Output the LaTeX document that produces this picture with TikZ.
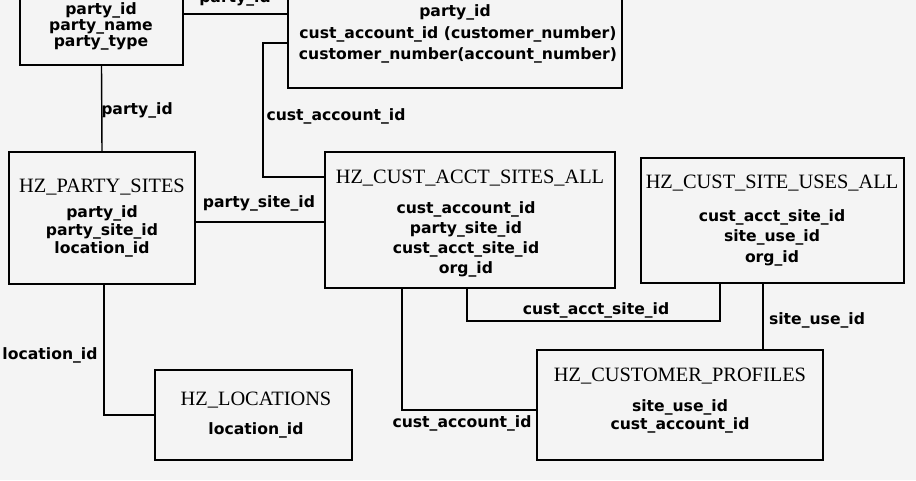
\documentclass[tikz,border=0pt]{standalone}
\usepackage{fontspec}
\setmainfont{Liberation Serif}
\newfontfamily\fieldfont{DejaVu Sans}
\definecolor{bg}{HTML}{F4F4F4}
\begin{document}
\begin{tikzpicture}[x=0.02cm,y=-0.02cm,
  tbl/.style={draw,line width=0.8pt,inner sep=0pt},
  ttl/.style={font=\fontsize{11.6}{13}\selectfont},
  fld/.style={font=\fieldfont\bfseries\fontsize{8.9}{10}\selectfont},
  lnk/.style={draw,line width=0.8pt}]
\fill[bg] (0,0) rectangle (916,480);
\useasboundingbox (0,0) rectangle (916,480);
\begin{scope}
\clip (0,0) rectangle (916,480);
% boxes
\node[tbl,minimum width=163*0.02cm,minimum height=100*0.02cm] (parties) at (101.5,15) {};
\node[tbl,minimum width=334*0.02cm,minimum height=120*0.02cm] (accts) at (455,28) {};
\node[tbl,minimum width=186*0.02cm,minimum height=132*0.02cm] (psites) at (102,218) {};
\node[tbl,minimum width=290*0.02cm,minimum height=136*0.02cm] (asites) at (470,220) {};
\node[tbl,minimum width=263*0.02cm,minimum height=125*0.02cm] (suses) at (772.5,220.5) {};
\node[tbl,minimum width=286*0.02cm,minimum height=110*0.02cm] (profs) at (680,405) {};
\node[tbl,minimum width=197*0.02cm,minimum height=90*0.02cm] (locs) at (253.5,415) {};
\end{scope}
% texts
\node[fld] (t1) at (101,10) {party\_id};
\node[fld] (t2) at (101,27) {party\_name};
\node[fld] (t3) at (101,43) {party\_type};
\node[fld] (t4) at (455,12) {party\_id};
\node[fld] (t5) at (458,34) {cust\_account\_id (customer\_number)};
\node[fld] (t6) at (458,55) {customer\_number(account\_number)};
\node[ttl] (p0) at (102,187) {HZ\_PARTY\_SITES};
\node[fld] (p1) at (102,213) {party\_id};
\node[fld] (p2) at (102,231) {party\_site\_id};
\node[fld] (p3) at (102,249) {location\_id};
\node[ttl] (a0) at (470,178) {HZ\_CUST\_ACCT\_SITES\_ALL};
\node[fld] (a1) at (466,209) {cust\_account\_id};
\node[fld] (a2) at (466,229) {party\_site\_id};
\node[fld] (a3) at (466,249) {cust\_acct\_site\_id};
\node[fld] (a4) at (466,269) {org\_id};
\node[ttl] (s0) at (772,183) {HZ\_CUST\_SITE\_USES\_ALL};
\node[fld] (s1) at (772,217) {cust\_acct\_site\_id};
\node[fld] (s2) at (772,237) {site\_use\_id};
\node[fld] (s3) at (772,258) {org\_id};
\node[ttl] (c0) at (680,376) {HZ\_CUSTOMER\_PROFILES};
\node[fld] (c1) at (680,407) {site\_use\_id};
\node[fld] (c2) at (680,425) {cust\_account\_id};
\node[ttl] (l0) at (256,400) {HZ\_LOCATIONS};
\node[fld] (l1) at (256,430) {location\_id};
% links
\begin{scope}
\clip (0,0) rectangle (916,480);
\draw[lnk] (parties.east |- 0,14) -- (accts.west |- 0,14);
\node[fld] (k0) at (235,-2) {party\_id};
\end{scope}
\draw[lnk] (parties.south) -- (psites.north);
\node[fld] (k1) at (137,110) {party\_id};
\draw[lnk] (accts.west |- 0,43) -- (263,43) -- (263,177) -- (asites.west |- 0,177);
\node[fld] (k2) at (336,116) {cust\_account\_id};
\draw[lnk] (psites.east |- 0,222) -- (asites.west |- 0,222);
\node[fld] (k3) at (259,203) {party\_site\_id};
\draw[lnk] (asites.south -| 467,0) -- (467,321) -- (720,321) -- (suses.south -| 720,0);
\node[fld] (k4) at (596,310) {cust\_acct\_site\_id};
\draw[lnk] (suses.south -| 763,0) -- (profs.north -| 763,0);
\node[fld] (k5) at (817,320) {site\_use\_id};
\draw[lnk] (asites.south -| 402,0) -- (402,410) -- (profs.west |- 0,410);
\node[fld] (k6) at (462,423) {cust\_account\_id};
\draw[lnk] (psites.south -| 104,0) -- (104,415) -- (locs.west |- 0,415);
\node[fld] (k7) at (50,355) {location\_id};
\end{tikzpicture}
\end{document}
